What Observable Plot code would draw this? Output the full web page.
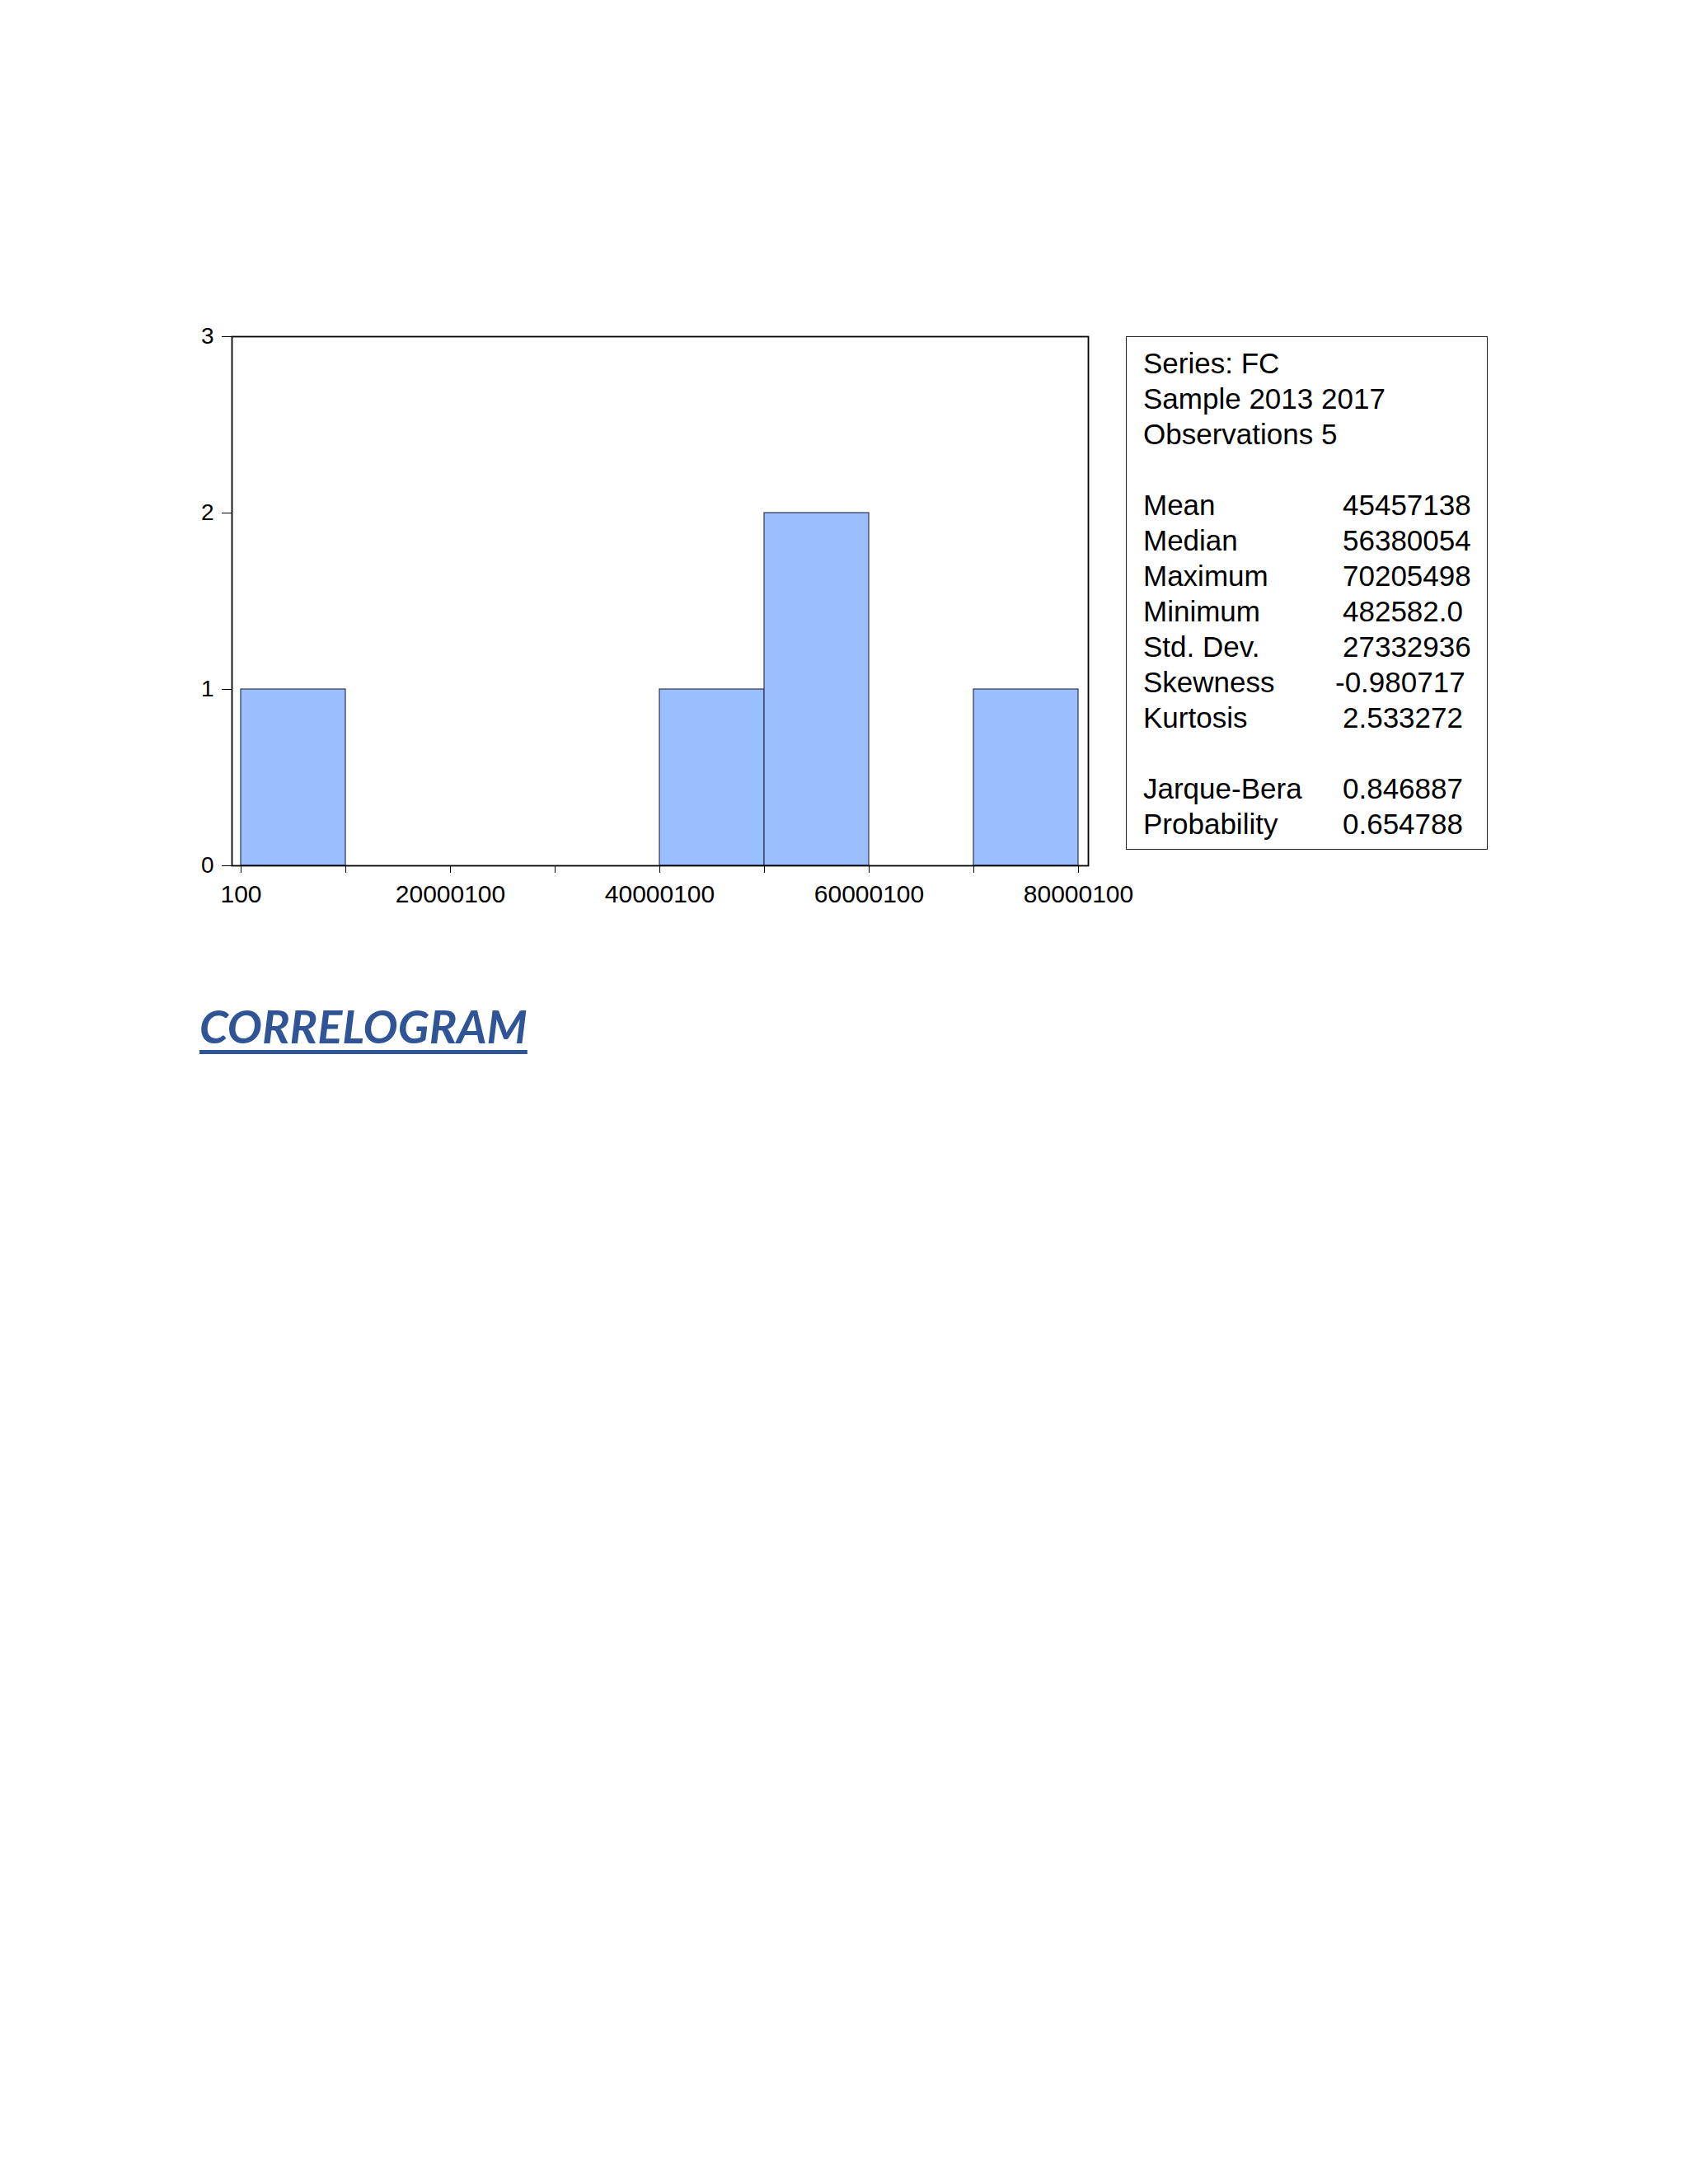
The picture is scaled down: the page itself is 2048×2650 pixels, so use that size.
<!DOCTYPE html>
<html>
<head>
<meta charset="utf-8">
<script src="https://cdn.jsdelivr.net/npm/d3@7"></script>
<script src="https://cdn.jsdelivr.net/npm/@observablehq/plot@0.6"></script>
<style>
  html, body { margin: 0; padding: 0; background: #ffffff; }
  #page { position: relative; width: 2048px; height: 2650px; background: #ffffff; overflow: hidden; }
  #chart { position: absolute; left: 0; top: 0; }
  #stats {
    position: absolute; left: 1366px; top: 408px; width: 437px; height: 611px;
    border: 1.5px solid #222; background: #fff; box-sizing: content-box;
    font-family: "Liberation Sans", Arial, sans-serif; font-size: 35px; line-height: 43px; color: #000;
    padding-top: 10px; z-index: 2;
  }
  .row { position: relative; height: 43px; white-space: nowrap; }
  .row .lab { position: absolute; left: 20px; }
  .row .val { position: absolute; left: 262px; }
  #heading {
    position: absolute; left: 242px; top: 1217px;
    font-family: Lato, "Open Sans", sans-serif; font-weight: 700; font-style: italic;
    font-size: 56px; line-height: 1; color: #2F5597;
    text-decoration: underline; text-decoration-thickness: 5px; text-underline-offset: 8px;
  }
</style>
</head>
<body>
<div id="page">
  <div id="chart"></div>
  <div id="stats"></div>
  <div id="heading">CORRELOGRAM</div>
</div>
<script>
// Histogram bins (edges) and counts
const binEdges = [100, 10000100, 20000100, 30000100, 40000100, 50000100, 60000100, 70000100, 80000100];
const binCounts = [1, 0, 0, 0, 1, 2, 0, 1];

// Axis ticks
const xTicks = [100, 10000100, 20000100, 30000100, 40000100, 50000100, 60000100, 70000100, 80000100];
const xTickLabels = [100, 20000100, 40000100, 60000100, 80000100];
const yTicks = [0, 1, 2, 3];

// Statistics panel
const statLabels = ["Series: FC", "Sample 2013 2017", "Observations 5", "", "Mean", "Median", "Maximum", "Minimum", "Std. Dev.", "Skewness", "Kurtosis", "", "Jarque-Bera", "Probability"];
const statValues = ["", "", "", "", "45457138", "56380054", "70205498", "482582.0", "27332936", "-0.980717", "2.533272", "", "0.846887", "0.654788"];

const bins = binCounts.map((c, i) => ({x1: binEdges[i], x2: binEdges[i + 1], count: c})).filter(d => d.count > 0);

const chart = Plot.plot({
  width: 1400,
  height: 1120,
  marginLeft: 281,
  marginRight: 80,
  marginTop: 408,
  marginBottom: 70,
  style: {fontFamily: '"Liberation Sans", Arial, sans-serif', color: "#000", background: "transparent", overflow: "visible"},
  x: {domain: [-866000, 80945000]},
  y: {domain: [0, 3]},
  marks: [
    Plot.rect(bins, {x1: "x1", x2: "x2", y1: 0, y2: "count", fill: "#99BFFF", stroke: "#33334a", strokeWidth: 1.2}),
    Plot.frame({stroke: "#000", strokeWidth: 1.8}),
    Plot.axisY({ticks: yTicks, tickSize: 12, tickPadding: 10, fontSize: 28, tickFormat: d => String(d), label: null}),
    Plot.axisX({ticks: xTicks, tickSize: 9, tickPadding: 14, fontSize: 30, label: null,
      tickFormat: d => xTickLabels.includes(d) ? String(d) : ""})
  ]
});
document.getElementById("chart").appendChild(chart);

const stats = document.getElementById("stats");
statLabels.forEach((lab, i) => {
  const row = document.createElement("div");
  row.className = "row";
  const l = document.createElement("span");
  l.className = "lab";
  l.textContent = lab;
  row.appendChild(l);
  const v = statValues[i];
  if (v) {
    const s = document.createElement("span");
    s.className = "val";
    s.textContent = v;
    if (v.startsWith("-")) s.style.marginLeft = "-9px";
    row.appendChild(s);
  }
  stats.appendChild(row);
});
</script>
</body>
</html>
